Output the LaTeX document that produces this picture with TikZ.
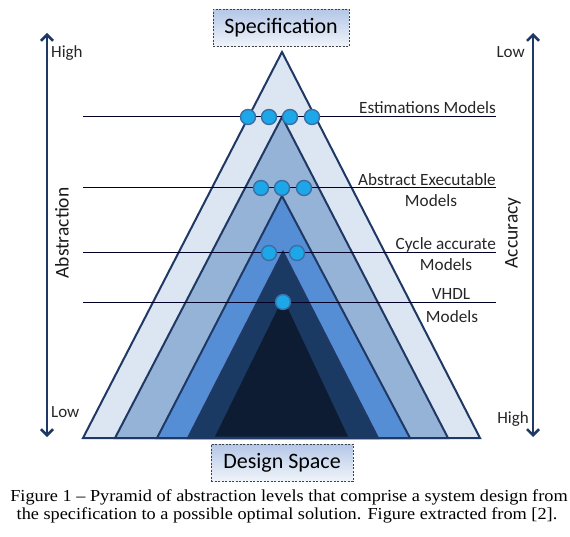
\documentclass[tikz,border=0pt]{standalone}
\usepackage{fontspec}
\setmainfont{Carlito}
\newfontfamily\capfont{Liberation Serif}
\usetikzlibrary{arrows.meta}
\definecolor{tone1}{HTML}{DCE6F2}
\definecolor{tone2}{HTML}{95B3D7}
\definecolor{tone3}{HTML}{558ED5}
\definecolor{tone4}{HTML}{1B3A63}
\definecolor{tone5}{HTML}{0E1C33}
\definecolor{edgeblue}{HTML}{1F3864}
\definecolor{dotfill}{HTML}{1CA8E8}
\definecolor{dotedge}{HTML}{3A6EA5}
\definecolor{boxtop}{HTML}{B4C7E7}
\definecolor{boxbot}{HTML}{F0F4FA}
\tikzset{
  layer/.style={draw=edgeblue, line width=2pt},
  level/.style={draw=black!85!blue, line width=1pt},
  dot/.style={circle, fill=dotfill, draw=dotedge, line width=1.4pt, minimum size=15pt, inner sep=0pt},
  lbl/.style={font=\fontsize{17.2}{19}\selectfont, inner sep=0pt, text=black!85},
  axislbl/.style={font=\fontsize{17}{19}\selectfont, inner sep=0pt, text=black!85},
  axistitle/.style={font=\fontsize{19.5}{21}\selectfont, inner sep=0pt, rotate=90, text=black!90},
  endbox/.style={draw=black!75, dash pattern=on 2pt off 1.5pt, line width=0.9pt, top color=boxtop, bottom color=boxbot, font=\fontsize{22}{24}\selectfont, inner sep=0pt},
  axisarrow/.style={draw=edgeblue, line width=2.5pt, {Straight Barb[length=6pt,width=12pt]}-{Straight Barb[length=6pt,width=12pt]}}
}
\begin{document}
\begin{tikzpicture}[x=1pt,y=-1pt]
\useasboundingbox (0,0) rectangle (570,537);
% pyramid layers
\filldraw[layer, fill=tone1] (83,438) -- (282,52) -- (480,438) -- cycle;
\filldraw[layer, fill=tone2] (115,438) -- (282,117) -- (448,438) -- cycle;
\filldraw[layer, fill=tone3] (157,438) -- (282,196) -- (410,438) -- cycle;
\filldraw[layer, fill=tone4] (188,438) -- (283,252) -- (378,438) -- cycle;
\fill[tone5] (215,436.5) -- (283,298) -- (348,436.5) -- cycle;
\draw[edgeblue, line width=2pt] (83,438) -- (480,438);
% level lines
\coordinate (l1a) at (83,117); \coordinate (l1b) at (496,117);
\coordinate (l2a) at (83,188); \coordinate (l2b) at (496,188);
\coordinate (l3a) at (83,253); \coordinate (l3b) at (496,253);
\coordinate (l4a) at (83,302); \coordinate (l4b) at (496,302);
\draw[level] (l1a) -- (l1b);
\draw[level] (l2a) -- (l2b);
\draw[level] (l3a) -- (l3b);
\draw[level] (l4a) -- (l4b);
% dots
\node[dot] (d11) at (248,117) {};
\node[dot] (d12) at (269,117) {};
\node[dot] (d13) at (290,117) {};
\node[dot] (d14) at (312,117) {};
\node[dot] (d21) at (261,188) {};
\node[dot] (d22) at (282,188) {};
\node[dot] (d23) at (304,188) {};
\node[dot] (d31) at (269,253) {};
\node[dot] (d32) at (297,253) {};
\node[dot] (d41) at (283,302) {};
% labels
\node[lbl, anchor=base east] (t1) at (496,114) {Estimations Models};
\node[lbl, anchor=base east] (t2a) at (496,186) {Abstract Executable};
\node[lbl, anchor=base] (t2b) at (431,207) {Models};
\node[lbl, anchor=base east] (t3a) at (496,250) {Cycle accurate};
\node[lbl, anchor=base] (t3b) at (446,271) {Models};
\node[lbl, anchor=base] (t4a) at (451,299) {VHDL};
\node[lbl, anchor=base] (t4b) at (452,322) {Models};
% axes
\coordinate (la) at (47,33); \coordinate (lb) at (47,437);
\coordinate (ra) at (533,33); \coordinate (rb) at (533,437);
\draw[axisarrow] (la) -- (lb);
\draw[axisarrow] (ra) -- (rb);
\node[axislbl, anchor=base west] (hl) at (51,58) {High};
\node[axislbl, anchor=base west] (ll) at (51,417) {Low};
\node[axislbl, anchor=base east] (lr) at (525,58) {Low};
\node[axislbl, anchor=base east] (hr) at (529,423) {High};
\node[axistitle] (abs) at (62,233) {Abstraction};
\node[axistitle] (acc) at (513,233) {Accuracy};
% boxes
\node[endbox, minimum width=136pt, minimum height=37pt] (spec) at (281,28) {Specification};
\node[endbox, minimum width=142pt, minimum height=37pt] (ds) at (282,462.5) {Design Space};
% caption
\node[inner sep=0pt, anchor=base] (cap1) at (289,501)
  {\scalebox{1.088}[1]{\capfont\fontsize{16.8}{18}\selectfont Figure 1 – Pyramid of abstraction levels that comprise a system design from}};
\node[inner sep=0pt, anchor=base] (cap2) at (287,519)
  {\scalebox{1.088}[1]{\capfont\fontsize{16.8}{18}\selectfont the specification to a possible optimal solution. Figure extracted from [2].}};
\end{tikzpicture}
\end{document}
